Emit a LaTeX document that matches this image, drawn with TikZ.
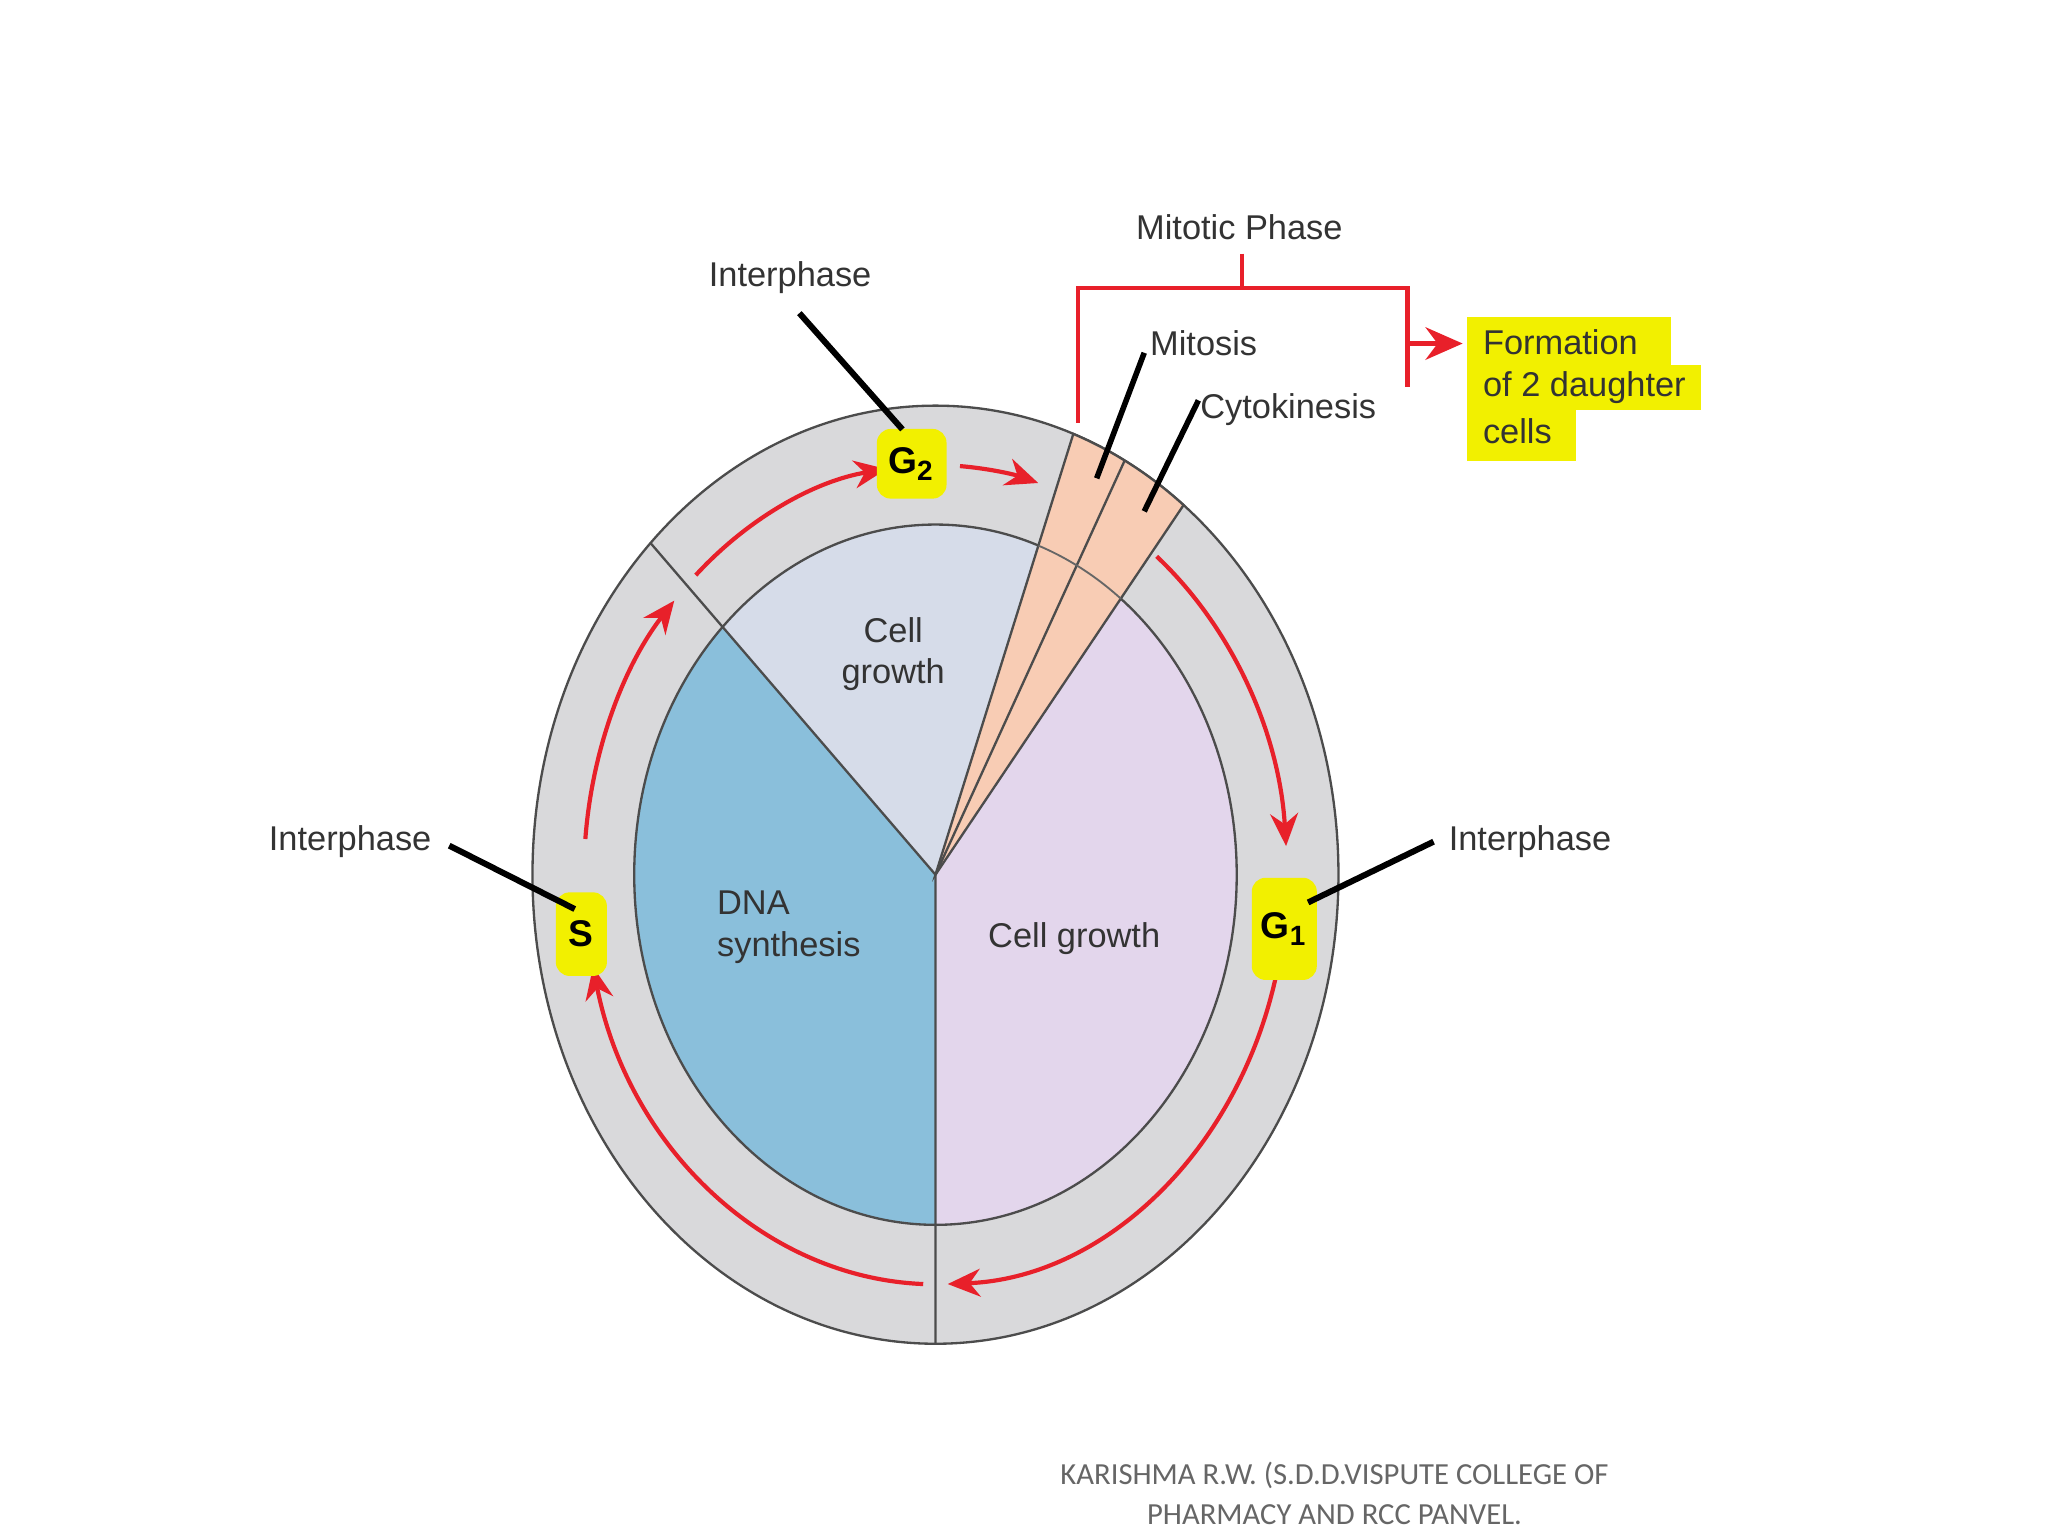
\documentclass[tikz,border=0pt]{standalone}
\usepackage{fontspec}
\setmainfont{Liberation Sans}
\newfontfamily\footfont{Carlito}
\usetikzlibrary{arrows.meta,calc}
\definecolor{ring}{HTML}{D9D9DB}
\definecolor{dna}{HTML}{8ABFDB}
\definecolor{topg}{HTML}{D6DCE9}
\definecolor{rightg}{HTML}{E3D6EC}
\definecolor{peach}{HTML}{F8CCB4}
\definecolor{hl}{HTML}{F2F000}
\definecolor{rd}{HTML}{E8202A}
\tikzset{lbl/.style={font=\fontsize{7.4}{9}\selectfont,text=black!80},
 ptr/.style={line width=1.3pt,black},
 cyc/.style={rd,line width=0.9pt,-{Stealth[length=7pt,width=6pt]}},
 hlbox/.style={fill=hl,rounded corners=3pt,inner sep=0pt,font=\bfseries\fontsize{8}{9}\selectfont}}
\begin{document}
\begin{tikzpicture}[x=0.01cm,y=0.01cm]
\useasboundingbox (0,0) rectangle (1550,1162);
\coordinate (c) at (708,500);
% ring
\fill[ring,draw=black!70,line width=0.5pt] (c) ellipse [x radius=305,y radius=355];
% inner sectors
\fill[dna] (c) -- ++(135:228 and 265) arc[start angle=135,end angle=270,x radius=228,y radius=265] -- cycle;
\fill[topg] (c) -- ++(70:228 and 265) arc[start angle=70,end angle=135,x radius=228,y radius=265] -- cycle;
\fill[rightg] (c) -- ++(-90:228 and 265) arc[start angle=-90,end angle=52,x radius=228,y radius=265] -- cycle;
\draw[black!70,line width=0.5pt] (c) ellipse [x radius=228,y radius=265];
% wedge
\fill[peach,draw=black!70,line width=0.5pt] (c) -- ++(52:305 and 355) arc[start angle=52,end angle=70,x radius=305,y radius=355] -- cycle;
\draw[black!70,line width=0.5pt] (c) -- ++(62:305 and 355);
\draw[black!60,line width=0.4pt] ($(c)+(52:228 and 265)$) arc[start angle=52,end angle=70,x radius=228,y radius=265];
\draw[black!70,line width=0.5pt] (c) -- ++(135:305 and 355) (c) -- ++(270:355);
% red cycle arrows
\draw[cyc] ($(c)+(268:266 and 310)$) arc[start angle=268,end angle=193,x radius=266,y radius=310];
\draw[cyc] ($(c)+(175:266 and 310)$) arc[start angle=175,end angle=138,x radius=266,y radius=310];
\draw[cyc] ($(c)+(133:266 and 310)$) arc[start angle=133,end angle=98,x radius=266,y radius=310];
\draw[cyc] ($(c)+(86:266 and 310)$) arc[start angle=86,end angle=73,x radius=266,y radius=310];
\draw[cyc] ($(c)+(51:266 and 310)$) arc[start angle=51,end angle=4,x radius=266,y radius=310];
\draw[cyc] ($(c)+(-14:266 and 310)$) arc[start angle=-14,end angle=-88,x radius=266,y radius=310];
% phase labels
\node[hlbox,minimum width=15pt,minimum height=15pt] (g2) at (690,811) {G\textsubscript{2}};
\node[hlbox,minimum width=11pt,minimum height=18pt] (s) at (440,455) {S};
\node[hlbox,minimum width=14pt,minimum height=22pt] (g1) at (972,459) {G\textsubscript{1}};
% sector texts
\node[lbl,align=center] (cg1) at (676,667) {Cell\\growth};
\node[lbl,align=left] (dna) at (597,460) {DNA\\synthesis};
\node[lbl] (cg2) at (813,452) {Cell growth};
% interphase pointers
\node[lbl] (i1) at (598,952) {Interphase};
\node[lbl] (i2) at (265,525) {Interphase};
\node[lbl] (i3) at (1158,525) {Interphase};
\coordinate (p1) at (683,837);
\coordinate (p2) at (435,474);
\coordinate (p3) at (990,479);
\draw[ptr] (605,925) -- (p1);
\draw[ptr] (340,522) -- (p2);
\draw[ptr] (1085,525) -- (p3);
% mitosis & cytokinesis
\node[lbl] (mi) at (911,902) {Mitosis};
\node[lbl] (cy) at (975,852) {Cytokinesis};
\coordinate (m1) at (830,800);
\coordinate (m2) at (866,775);
\draw[line width=1.2pt] (866,895) -- (m1);
\draw[line width=1.2pt] (907,859) -- (m2);
% mitotic phase bracket
\node[lbl] (mp) at (938,990) {Mitotic Phase};
\coordinate (b0) at (940,944);
\coordinate (bl) at (816,944);
\coordinate (br) at (1065,944);
\draw[rd,line width=1pt] (940,970) -- (b0);
\draw[rd,line width=1pt] (816,842) -- (bl) -- (br) -- (1065,869);
\coordinate (ah) at (1107,902);
\draw[rd,line width=1pt,-{Stealth[length=8pt,width=7pt]}] (1065,902) -- (ah);
\fill[hl] (1110,922) rectangle (1265,886);
\fill[hl] (1110,886) rectangle (1287,852);
\fill[hl] (1110,852) rectangle (1193,813);
\node[lbl,anchor=west] (f1) at (1110,903) {Formation};
\node[lbl,anchor=west] (f2) at (1110,869) {of 2 daughter};
\node[lbl,anchor=west] (f3) at (1110,836) {cells};
% footer
\node[font=\footfont\fontsize{6.6}{8.6}\selectfont,text=black!60,align=center] (ft) at (1010,32) {KARISHMA R.W. (S.D.D.VISPUTE COLLEGE OF\\PHARMACY AND RCC PANVEL.};
\end{tikzpicture}
\end{document}
